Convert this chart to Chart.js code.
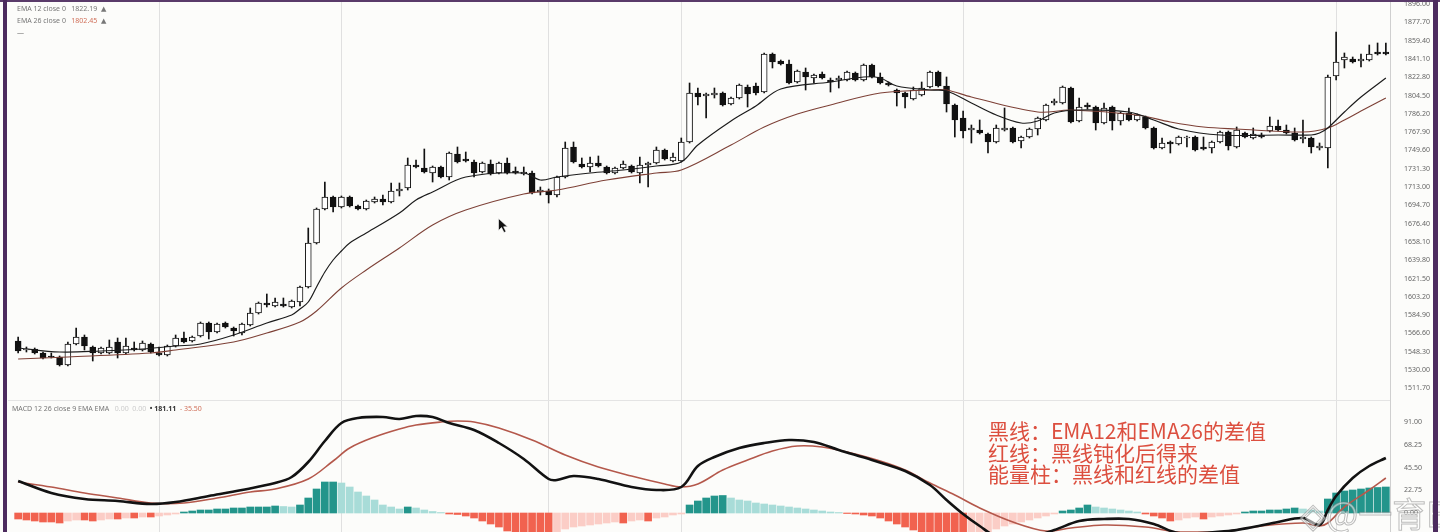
<!DOCTYPE html>
<html>
<head>
<meta charset="utf-8">
<script src="https://cdn.jsdelivr.net/npm/chart.js@4.4.1/dist/chart.umd.min.js"></script>
<style>
  html, body { margin: 0; padding: 0; background: #fff; overflow: hidden; }
  #wrap { position: relative; width: 1440px; height: 532px; background: #fcfcfa; overflow: hidden;
          font-family: "Noto Sans", "DejaVu Sans", sans-serif; }
  #priceChart { position: absolute; left: 0; top: 0; }
  #macdChart { position: absolute; left: 0; top: 400px; }
  .sep { position: absolute; left: 8px; top: 400px; width: 1382px; height: 1px; background: #e4e4e4; }
  .edgeL { position: absolute; left: 3px; top: 0; width: 4px; height: 532px; background: #4c2b5e; }
  .edgeR { position: absolute; left: 1433px; top: 0; width: 5px; height: 532px; background: #4c2b5e; }
  .edgeT { position: absolute; left: 0; top: 0; width: 1440px; height: 2px; background: #5a3b6a; }
  .legend { position: absolute; font-size: 7px; color: #777; white-space: pre; line-height: 9px; }
  .legend b { color: #333; }
  .legend .r { color: #d0705a; }
  .legend .f { color: #ccc; }
  .note { position: absolute; left: 988px; top: 420px; font-family: "Noto Sans CJK SC", sans-serif;
          font-size: 21px; line-height: 21.5px; color: #dc4f3f; white-space: pre; }
  .mark { position: absolute; left: 1300px; top: 488px; font-family: "Noto Sans CJK SC", sans-serif;
          font-size: 34px; color: rgba(255,255,255,0.55); -webkit-text-stroke: 1px rgba(110,110,110,0.45);
          white-space: pre; }
  .cursor { position: absolute; left: 498px; top: 218px; }
</style>
</head>
<body>
<div id="wrap">
  <canvas id="priceChart" width="1440" height="400"></canvas>
  <canvas id="macdChart" width="1440" height="132"></canvas>
  <div class="sep"></div>
  <div class="legend" style="left:17px;top:4px;">EMA 12 close 0   1822.19  ▲</div>
  <div class="legend" style="left:17px;top:16px;">EMA 26 close 0   <span class="r">1802.45</span>  ▲</div>
  <div class="legend" style="left:17px;top:28px;">—</div>
  <div class="legend" style="left:12px;top:404px;">MACD 12 26 close 9 EMA EMA   <span class="f">0.00  0.00</span>  <b>• 181.11</b>  <span class="r">- 35.50</span></div>
  <div class="note">黑线：EMA12和EMA26的差值
红线：黑线钝化后得来
能量柱：黑线和红线的差值</div>
  <div class="mark">◈@一育ETH</div>
  <svg class="cursor" width="12" height="16" viewBox="0 0 12 16">
    <path d="M0.5 0.5 L0.5 12.5 L3.5 9.5 L6 14.5 L8 13.6 L5.6 8.8 L9.6 8.8 Z" fill="#111" stroke="#fff" stroke-width="0.6"/>
  </svg>
  <div class="edgeT"></div>
  <div class="edgeL"></div>
  <div class="edgeR"></div>
</div>
<script>
// K线数据（开、收、高、低）
const open = [1559,1550,1551,1547,1544,1543,1535,1556,1563,1553,1547,1547,1558,1547,1552,1550,1556,1547,1545,1554,
  1562,1559,1564,1577,1568,1577,1572,1567,1575,1587,1597,1594,1596,1593,1598,1613,1657,1691,1703,1693,
  1703,1694,1691,1698,1701,1698,1709,1712,1735,1732,1727,1733,1723,1746,1741,1738,1728,1736,1727,1737,
  1729,1726,1727,1708,1709,1705,1723,1753,1736,1733,1737,1733,1727,1732,1734,1727,1735,1737,1750,1739,
  1739,1758,1807,1804,1805,1807,1796,1802,1813,1814,1808,1846,1839,1836,1818,1828,1822,1826,1820,1820,
  1820,1827,1820,1835,1823,1817,1810,1807,1801,1805,1813,1828,1814,1795,1782,1770,1770,1766,1758,1770,
  1772,1759,1763,1771,1780,1797,1797,1812,1779,1795,1793,1777,1793,1779,1787,1780,1783,1772,1752,1758,
  1756,1762,1763,1753,1752,1758,1768,1753,1767,1762,1765,1769,1774,1770,1767,1761,1762,1752,1752,1824,
  1840,1841,1839,1840,1848,1848];
const close = [1549,1551,1547,1542,1543,1535,1556,1563,1554,1547,1552,1553,1547,1554,1550,1557,1548,1545,1554,1562,
  1558,1563,1577,1568,1576,1573,1569,1576,1587,1597,1595,1598,1594,1599,1613,1657,1691,1703,1693,1703,
  1694,1691,1699,1701,1698,1709,1711,1735,1733,1728,1733,1723,1747,1738,1739,1727,1737,1726,1737,1727,
  1727,1728,1707,1710,1705,1723,1752,1738,1733,1737,1734,1727,1732,1736,1728,1735,1737,1750,1741,1743,
  1758,1807,1803,1806,1807,1795,1802,1815,1806,1807,1846,1838,1836,1817,1829,1823,1825,1822,1818,1822,
  1828,1820,1835,1823,1817,1815,1807,1803,1810,1812,1828,1814,1796,1780,1769,1772,1767,1758,1772,1772,
  1758,1763,1771,1782,1795,1799,1813,1778,1793,1793,1777,1792,1779,1787,1780,1785,1772,1752,1757,1756,
  1763,1763,1750,1751,1758,1768,1754,1770,1763,1766,1763,1774,1770,1767,1760,1763,1753,1754,1823,1838,
  1843,1838,1841,1846,1846,1846];
const high = [1563,1553,1552,1548,1547,1544,1558,1572,1565,1554,1553,1560,1562,1562,1558,1559,1557,1553,1555,1565,
  1568,1564,1578,1578,1577,1578,1573,1577,1592,1598,1606,1602,1602,1600,1614,1672,1692,1718,1704,1704,
  1704,1695,1700,1703,1705,1717,1717,1742,1740,1751,1734,1734,1748,1753,1748,1740,1738,1740,1738,1742,
  1733,1733,1729,1713,1711,1724,1758,1758,1742,1743,1744,1734,1733,1739,1735,1743,1738,1753,1751,1747,
  1762,1817,1812,1807,1812,1808,1803,1816,1815,1817,1847,1847,1840,1840,1830,1832,1826,1828,1822,1824,
  1829,1828,1836,1836,1827,1818,1811,1808,1813,1818,1829,1829,1823,1796,1789,1775,1780,1767,1775,1792,
  1773,1764,1772,1783,1796,1801,1814,1813,1802,1797,1794,1797,1794,1788,1792,1786,1784,1773,1762,1759,
  1764,1764,1764,1763,1759,1769,1769,1773,1768,1772,1767,1783,1780,1775,1772,1780,1763,1757,1825,1868,
  1847,1843,1846,1855,1857,1857];
const low = [1547,1548,1546,1541,1542,1534,1534,1555,1550,1539,1546,1546,1542,1546,1549,1549,1547,1544,1544,1553,
  1557,1558,1563,1561,1567,1572,1564,1565,1574,1586,1593,1593,1593,1592,1594,1612,1656,1690,1688,1692,
  1693,1690,1690,1697,1695,1697,1704,1710,1732,1727,1718,1722,1720,1737,1738,1723,1727,1725,1726,1726,
  1726,1725,1706,1705,1697,1703,1722,1737,1732,1728,1733,1726,1726,1731,1727,1717,1713,1736,1740,1738,
  1738,1757,1795,1782,1802,1794,1795,1801,1793,1805,1807,1832,1835,1816,1817,1810,1817,1821,1808,1812,
  1819,1819,1819,1822,1816,1814,1794,1792,1800,1804,1812,1813,1788,1763,1762,1757,1766,1747,1757,1769,
  1757,1752,1762,1765,1779,1795,1796,1777,1778,1791,1770,1776,1770,1775,1779,1779,1771,1751,1751,1747,
  1755,1753,1749,1750,1747,1757,1750,1752,1762,1761,1762,1768,1769,1766,1759,1757,1747,1750,1732,1820,
  1832,1837,1833,1839,1845,1845];

// 均线 [序号, 数值]
const emaFast = [[0,1552],[5,1548],[10,1549],[15,1551],[19,1554],[22,1556],[26,1565],[30,1577],[33,1585],[34,1591],
  [35,1598],[36,1613],[37,1628],[38,1640],[39,1649],[40,1657],[42,1667],[46,1687],[48,1700],[50,1708],[54,1723],
  [61,1727],[63,1720],[65,1723],[69,1727],[73,1730],[77,1734],[80,1738],[82,1755],[86,1779],[89,1794],[92,1811],
  [98,1818],[102,1823],[104,1822],[106,1814],[110,1810],[112,1809],[115,1797],[118,1785],[121,1777],[123,1779],
  [125,1787],[128,1790],[134,1788],[137,1780],[140,1771],[145,1765],[152,1765],[156,1765],[157,1767],[158,1772],
  [160,1788],[162,1803],[165,1822]];
const emaSlow = [[0,1541],[6,1543],[16,1547],[19,1550],[26,1558],[30,1567],[34,1578],[36,1589],[39,1612],[42,1630],
  [46,1652],[50,1675],[54,1690],[61,1706],[65,1710],[71,1720],[77,1727],[80,1730],[86,1755],[90,1773],[94,1786],
  [98,1795],[104,1807],[110,1810],[112,1810],[115,1803],[123,1788],[127,1790],[135,1785],[139,1778],[143,1773],
  [147,1771],[155,1768],[158,1772],[160,1780],[162,1789],[165,1802]];

// MACD
const macdDif = [[0,32],[4,20],[8,14],[12,12],[16,9],[19,11],[23,17],[27,23],[31,30],[33,36],[35,51],[37,72],[39,90],
  [41,95],[44,96],[46,94],[48,97],[50,96],[52,90],[55,83],[58,70],[61,54],[64,34],[65,33],[67,37],[70,34],[74,26],
  [77,23],[80,26],[82,47],[84,56],[87,65],[90,70],[93,73],[96,71],[99,63],[103,53],[107,42],[110,28],[112,13],
  [114,-1],[116,-13],[118,-23],[122,-24],[125,-17],[128,-8],[131,-6],[134,-6],[137,-11],[140,-20],[146,-18],
  [149,-14],[152,-9],[155,-5],[157,-12],[158,3],[159,17],[161,35],[163,47],[165,55]];
const macdDea = [[0,31],[4,26],[8,20],[12,15],[16,10],[20,10],[24,15],[28,21],[31,24],[35,34],[38,52],[40,65],[43,76],
  [46,84],[48,88],[51,91],[53,92],[55,91],[58,85],[62,73],[66,58],[70,46],[74,37],[78,29],[80,26],[82,29],[85,43],
  [88,53],[91,62],[94,67],[97,66],[100,61],[104,52],[107,43],[110,30],[113,18],[116,5],[120,-9],[124,-18],[127,-15],
  [131,-12],[136,-14],[140,-19],[145,-19],[150,-13],[155,-10],[157,-13],[158,-10],[160,6],[163,23],[165,35]];
const macdHist = [-6,-7,-8,-9,-9,-10,-8,-7,-7,-8,
  -7,-6,-6,-5,-5,-4,-4,-3,-2,-1,
  1,2,3,3,4,4,5,5,6,6,
  6,7,6.5,6,8,15,24,31,31,30,
  26,21,17,13,8,6,4,6,5,3,
  1.5,0.5,-1,-1.5,-3,-5,-8,-11,-14,-18,
  -20,-22,-24,-25,-26,-20,-16,-14,-13,-12,
  -11,-10,-9,-10,-8,-7,-8,-5,-4,-2,
  -1,8,12,15,17,17.5,15,13,12,10,
  9,8,7,6,5,4,3,2,1,0.5,
  -0.5,-1,-2,-3,-5,-8,-11,-14,-17,-20,
  -22,-24,-25,-26,-27,-25,-22,-19,-16,-13,
  -11,-9,-7,-5,-3,-1,2,3,5,8,
  6,5,4,3,2,1,-1,-3,-5,-8,
  -7,-5,-4,-6,-4,-3,-2,-1,1,2,
  2,3,3,4,5,4,3,2,14,20,
  22,23,24,25,25.5,26];

// 坐标轴刻度
const priceTicks = [1896,1877.7,1859.4,1841.1,1822.8,1804.5,1786.2,1767.9,1749.6,1731.3,1713,1694.7,
  1676.4,1658.1,1639.8,1621.5,1603.2,1584.9,1566.6,1548.3,1530,1511.7];
const macdTicks = [91,68.25,45.5,22.75,0];
const dayLines = [17, 39, 64, 80, 114, 159];

const xMin = -0.5, xMax = open.length - 0.5;
const axisFont = { family: 'Noto Sans', size: 7 };

function xAxis() {
  return {
    type: 'linear', min: xMin, max: xMax, offset: false,
    ticks: { display: false },
    grid: { color: '#e0e0e0', lineWidth: 1, drawTicks: false, offset: false },
    border: { display: false },
    afterBuildTicks: s => { s.ticks = dayLines.map(v => ({ value: v })); },
    afterFit: s => { s.height = 0; }
  };
}
function yAxis(min, max, tickVals) {
  return {
    position: 'right', min: min, max: max,
    grid: { display: false },
    border: { display: true, color: '#cfcfcf' },
    ticks: { color: '#666', font: axisFont, padding: 6, autoSkip: false,
             callback: v => v.toFixed(2) },
    afterBuildTicks: s => { s.ticks = tickVals.map(v => ({ value: v })); },
    afterFit: s => { s.width = 50; s.paddingTop = 0; s.paddingBottom = 0; }
  };
}
const pts = arr => arr.map(p => ({ x: p[0], y: p[1] }));
const isUp = i => close[i] >= open[i];

new Chart(document.getElementById('priceChart').getContext('2d'), {
  type: 'bar',
  data: {
    datasets: [
      {
        label: 'wick',
        data: high.map((h, i) => ({ x: i, y: [low[i], h] })),
        backgroundColor: '#111', barThickness: 1, grouped: false, order: 3
      },
      {
        label: 'body',
        data: open.map((o, i) => ({ x: i, y: [o, close[i]] })),
        backgroundColor: open.map((o, i) => isUp(i) ? '#ffffff' : '#111111'),
        borderColor: '#111', borderWidth: 1, borderSkipped: false,
        barThickness: 6, grouped: false, order: 2
      },
      {
        type: 'line', label: 'EMA12', data: pts(emaFast),
        borderColor: '#1c1c1c', borderWidth: 1.2, pointRadius: 0, tension: 0.35, order: 1
      },
      {
        type: 'line', label: 'EMA26', data: pts(emaSlow),
        borderColor: '#7d4036', borderWidth: 1.1, pointRadius: 0, tension: 0.35, order: 1
      }
    ]
  },
  options: {
    responsive: false, animation: false, devicePixelRatio: 1,
    layout: { padding: { left: 14, right: 0, top: 0, bottom: 0 } },
    plugins: { legend: { display: false }, tooltip: { enabled: false } },
    scales: { x: xAxis(), y: yAxis(1500, 1900, priceTicks) }
  }
});

const histColors = macdHist.map((v, i) => {
  const prev = i > 0 ? macdHist[i - 1] : 0;
  if (v >= 0) return v >= prev ? '#23958b' : '#a8dcd8';
  return v <= prev ? '#f1624f' : '#fbcdc6';
});

new Chart(document.getElementById('macdChart').getContext('2d'), {
  type: 'bar',
  data: {
    datasets: [
      {
        label: 'hist',
        data: macdHist.map((v, i) => ({ x: i, y: v })),
        backgroundColor: histColors, barThickness: 7, grouped: false, order: 3
      },
      {
        type: 'line', label: 'DIF', data: pts(macdDif),
        borderColor: '#121212', borderWidth: 2.6, pointRadius: 0, tension: 0.35, order: 1
      },
      {
        type: 'line', label: 'DEA', data: pts(macdDea),
        borderColor: '#b4584b', borderWidth: 1.6, pointRadius: 0, tension: 0.35, order: 2
      }
    ]
  },
  options: {
    responsive: false, animation: false, devicePixelRatio: 1,
    layout: { padding: { left: 14, right: 0, top: 0, bottom: 0 } },
    plugins: { legend: { display: false }, tooltip: { enabled: false } },
    scales: { x: xAxis(), y: yAxis(-19, 113, macdTicks) }
  }
});
</script>
</body>
</html>
